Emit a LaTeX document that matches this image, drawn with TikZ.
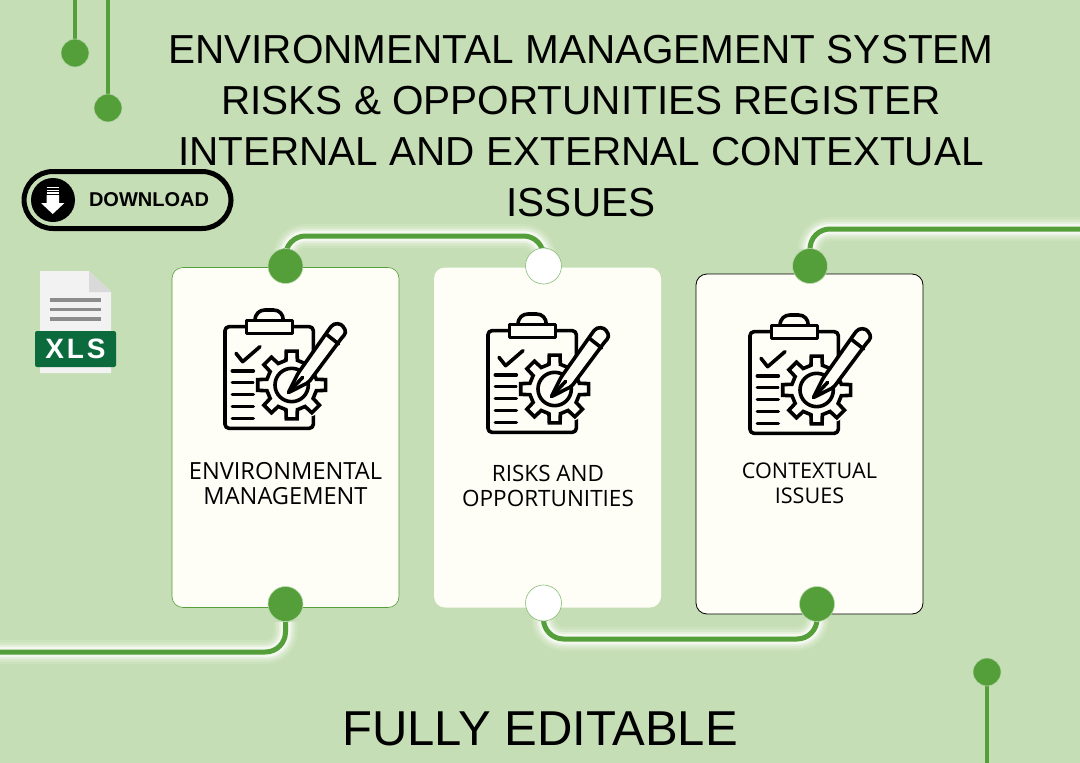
\documentclass[tikz,border=0pt]{standalone}
\usepackage{fontspec}
\setmainfont{Liberation Sans}
\newfontfamily\cardfont{Open Sans}
\newfontfamily\xlsfont[LetterSpace=10, BoldFont={Liberation Sans Bold}]{Liberation Sans}
\usetikzlibrary{backgrounds}
\definecolor{paleleaf}{HTML}{C6DEB5}
\definecolor{leaf}{HTML}{559F3A}
\definecolor{ivory}{HTML}{FEFEF7}
\definecolor{xlsgreen}{HTML}{0B6B3D}
\tikzset{
    card/.style={rectangle, rounded corners=11pt, fill=ivory, minimum width=227pt, minimum height=340pt},
    cardtext/.style={align=center, font=\cardfont\fontsize{#1}{25}\selectfont},
    dot/.style={circle, fill=leaf, draw=white!60!leaf, line width=0.6pt, minimum size=35pt, inner sep=0pt},
    hollowdot/.style={dot, fill=white, draw=leaf!70, minimum size=36pt},
    link/.style={draw=leaf, line width=5pt, rounded corners=20pt,
        preaction={draw=white, opacity=0.12, line width=24pt},
        preaction={draw=white, opacity=0.2, line width=19pt},
        preaction={draw=white, opacity=0.35, line width=14pt},
        preaction={draw=white, opacity=0.6, line width=10pt}},
    stem/.style={draw=leaf, line width=3.5pt},
    clipicon/.pic={
        \begin{scope}[x=0.3333pt, y=-0.3333pt, line width=3.6pt, line join=round, line cap=round]
            \draw (165,92) .. controls (165,70) and (180,60) .. (195,60) -- (220,60) .. controls (238,60) and (250,72) .. (250,92);
            \draw[rounded corners=4pt] (75,110) rectangle (340,415);
            \draw[fill=ivory] (140,92) rectangle (277,130);
            \draw (108,190) -- (128,215) -- (180,170);
            \foreach \y in {243, 278, 314, 350, 385}
                \draw (97,\y) -- (160,\y);
            \begin{scope}[shift={(275,285)}]
                \draw[fill=ivory, line join=miter, preaction={draw=ivory, line width=7pt}] (-13:76)
                    \foreach \a in {0, 45, ..., 315} {-- (\a-13:76) -- (\a-9:103) -- (\a+9:103) -- (\a+13:76)} -- cycle;
                \draw (0,0) circle (50);
            \end{scope}
            \draw[fill=ivory, rounded corners=2pt] (265,308) -- (294,250) -- (390,114)
                .. controls (403,97) and (423,100) .. (432,114) .. controls (438,124) and (436,132) .. (428,140) -- (326,277) -- cycle;
            \draw (378,132) -- (416,162);
            \draw (265,308) -- (308,262);
        \end{scope}
    }
}
\begin{document}
\begin{tikzpicture}[x=1pt, y=-1pt]

    \useasboundingbox (0,0) rectangle (1080,763);

    \node[name=title, align=center, font=\fontsize{40.5}{51}\selectfont] at (581,126.5)
        {ENVIRONMENTAL MANAGEMENT SYSTEM\\RISKS \& OPPORTUNITIES REGISTER\\INTERNAL AND EXTERNAL CONTEXTUAL\\ISSUES};
    \node[name=footer, font=\fontsize{49}{60}\selectfont] at (540,729) {FULLY EDITABLE};

    \node[name=card_1, card, draw=leaf, line width=0.6pt] at (285.5,437.5) {};
    \node[name=card_2, card] at (547.5,437.5) {};
    \node[name=card_3, card, draw=black, line width=0.8pt] at (809.5,444) {};

    \pic at (200,290) {clipicon};
    \pic at (463,294) {clipicon};
    \pic at (725,295) {clipicon};

    \node[name=text_1, cardtext=23.6] at (285.5,484) {ENVIRONMENTAL\\MANAGEMENT};
    \node[name=text_2, cardtext=22.5] at (548,485.5) {RISKS AND\\OPPORTUNITIES};
    \node[name=text_3, cardtext=21.6] at (809.5,483.5) {CONTEXTUAL\\ISSUES};

    \node[name=top_1, dot] at (285.5,266) {};
    \node[name=top_2, hollowdot] at (543.5,266) {};
    \node[name=top_3, dot] at (810,266) {};
    \node[name=low_1, dot] at (285.5,604) {};
    \node[name=low_2, hollowdot] at (543.5,603) {};
    \node[name=low_3, dot] at (817,604) {};

    \node[name=pin_1, dot, minimum size=28pt] at (75,53) {};
    \node[name=pin_2, dot, minimum size=28pt] at (108,108) {};
    \node[name=pin_3, dot, minimum size=28pt] at (987,672) {};

    \coordinate (link_left) at (-15,652);
    \coordinate (link_right) at (1095,229);
    \coordinate (stem_1) at (75,-5);
    \coordinate (stem_2) at (108,-5);
    \coordinate (stem_3) at (987,770);

    \begin{scope}[on background layer]
        \fill[paleleaf] (0,0) rectangle (1080,763);
        \path[link] (top_1) -- (top_1 |- 0,236) -- (top_2 |- 0,236) -- (top_2);
        \path[link] (top_3) -- (top_3 |- link_right) -- (link_right);
        \path[link] (low_1) -- (low_1 |- link_left) -- (link_left);
        \path[link] (low_2) -- (low_2 |- 0,639) -- (low_3 |- 0,639) -- (low_3);
        \path[stem] (pin_1) -- (stem_1);
        \path[stem] (pin_2) -- (stem_2);
        \path[stem] (pin_3) -- (stem_3);
    \end{scope}

    \node[name=pill, draw=black, line width=5pt, rectangle, rounded corners=29pt, minimum width=207pt, minimum height=57pt] at (127.5,200) {};
    \node[name=pill_disc, circle, fill=black, minimum size=44pt, inner sep=0pt] at (53,200) {};
    \fill[white] (46.5,195) -- (59,195) -- (59,203) -- (64.5,203) -- (52.7,214) -- (41,203) -- (46.5,203) -- cycle;
    \foreach \y in {187.5, 190.5, 193}
        \draw[white, line width=1.2pt] (46.5,\y) -- (59,\y);
    \node[name=pill_text, font=\bfseries\fontsize{20}{24}\selectfont] at (149,200) {DOWNLOAD};

    \fill[black!5] (40,271) -- (89,271) -- (111,292) -- (111,373) -- (40,373) -- cycle;
    \fill[black!15] (89,271) -- (111,292) -- (89,292) -- cycle;
    \foreach \y in {300, 309.5, 319}
        \draw[black!45, line width=3.3pt] (49.5,\y) -- (101,\y);
    \node[name=xls, rectangle, rounded corners=2pt, fill=xlsgreen, text=white, font=\xlsfont\bfseries\fontsize{28}{30}\selectfont, minimum width=81pt, minimum height=36pt, inner sep=0pt] at (75.5,349) {XLS};

\end{tikzpicture}
\end{document}
